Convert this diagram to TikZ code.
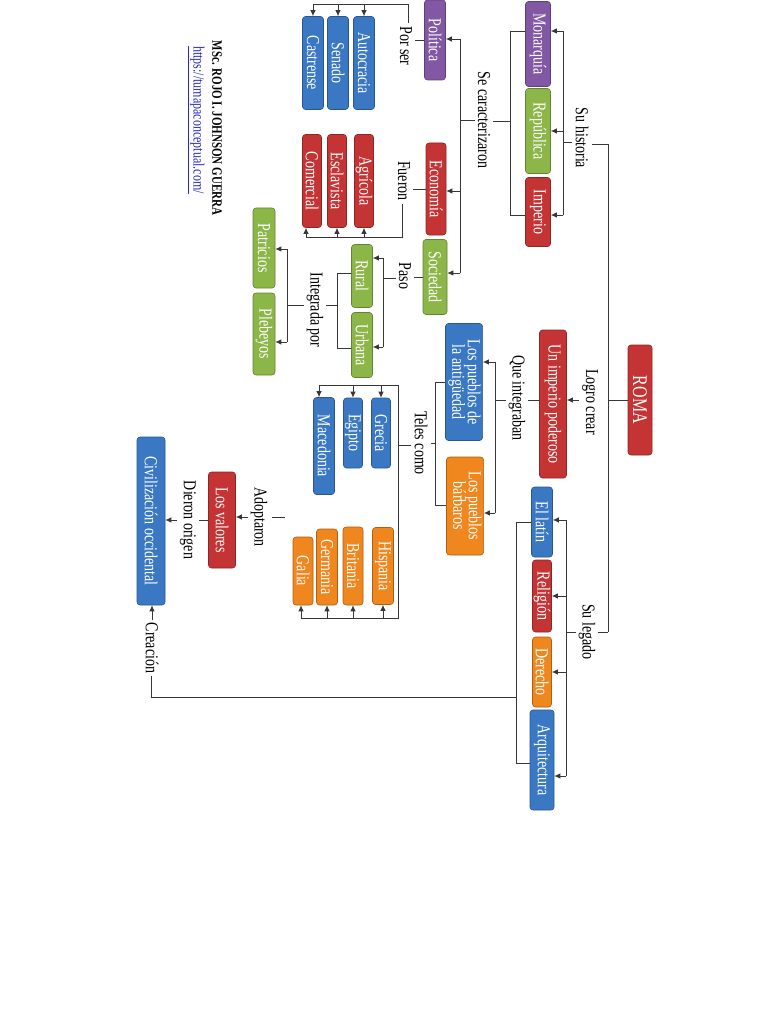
\documentclass[tikz,border=0pt]{standalone}
\usepackage{fontspec}
\setmainfont{Liberation Serif}
\usetikzlibrary{arrows.meta}
\definecolor{cpur}{RGB}{130,88,165}
\definecolor{cgrn}{RGB}{140,182,72}
\definecolor{cred}{RGB}{196,52,52}
\definecolor{cblu}{RGB}{58,120,196}
\definecolor{corg}{RGB}{240,134,30}
\definecolor{cln}{RGB}{55,55,55}
\definecolor{curl}{RGB}{40,40,200}
\newcommand{\tx}[1]{\scalebox{1}[1.3]{#1}}
\newcommand{\tl}[1]{\scalebox{1}[1.3]{\begin{tabular}{@{}c@{}}#1\end{tabular}}}
\begin{document}
\begin{tikzpicture}[x=1pt,y=-1pt,
  box/.style={rectangle, rounded corners=3pt, rotate=-90, draw=#1!72!black, fill=#1, text=white, inner sep=1pt, line width=0.6pt, font=\fontsize{14}{15}\selectfont},
  lab/.style={rotate=-90, inner sep=3pt, font=\fontsize{14}{15}\selectfont},
  ln/.style={draw=cln, line width=0.85pt},
  arr/.style={ln, -{Latex[length=6pt,width=5.5pt]}}]
\fill[white] (0,0) rectangle (768,1024);
\useasboundingbox (0,0) rectangle (768,1024);
% boxes
\node[box=cred, minimum width=110, minimum height=24, font=\fontsize{16}{17}\selectfont] (roma) at (640,400) {\tx{ROMA}};
\node[box=cred, minimum width=148, minimum height=27] (imp0) at (553,404) {\tx{Un imperio poderoso}};
\node[box=cpur, minimum width=85, minimum height=25] (mon) at (538,44) {\tx{Monarquía}};
\node[box=cgrn, minimum width=85, minimum height=25] (rep) at (538,131) {\tx{República}};
\node[box=cred, minimum width=69, minimum height=25] (impe) at (538,212) {\tx{Imperio}};
\node[box=cpur, minimum width=80, minimum height=21] (pol) at (435,40) {\tx{Política}};
\node[box=cred, minimum width=92, minimum height=20] (eco) at (436,189) {\tx{Economía}};
\node[box=cgrn, minimum width=75, minimum height=24] (soc) at (435,277) {\tx{Sociedad}};
\node[box=cblu, minimum width=93, minimum height=21] (aut) at (364,63) {\tx{Autocracia}};
\node[box=cblu, minimum width=93, minimum height=21] (sen) at (338,63) {\tx{Senado}};
\node[box=cblu, minimum width=93, minimum height=21] (cas) at (313,63) {\tx{Castrense}};
\node[box=cred, minimum width=93, minimum height=19] (agr) at (364,181) {\tx{Agrícola}};
\node[box=cred, minimum width=93, minimum height=19] (esc) at (337,181) {\tx{Esclavista}};
\node[box=cred, minimum width=93, minimum height=19] (com) at (312,181) {\tx{Comercial}};
\node[box=cgrn, minimum width=63, minimum height=21] (rur) at (362,276) {\tx{Rural}};
\node[box=cgrn, minimum width=65, minimum height=21] (urb) at (362,345) {\tx{Urbana}};
\node[box=cgrn, minimum width=80, minimum height=22] (pat) at (264,248) {\tx{Patricios}};
\node[box=cgrn, minimum width=82, minimum height=22] (ple) at (264,334) {\tx{Plebeyos}};
\node[box=cblu, minimum width=117, minimum height=35] (pa) at (464,382) {\tl{Los pueblos de\\[-3pt]la antigüedad}};
\node[box=corg, minimum width=98, minimum height=35] (pb) at (465,506) {\tl{Los pueblos\\[-3pt]bárbaros}};
\node[box=cblu, minimum width=70, minimum height=19] (gre) at (381,433) {\tx{Grecia}};
\node[box=cblu, minimum width=70, minimum height=19] (egi) at (353,433) {\tx{Egipto}};
\node[box=cblu, minimum width=97, minimum height=21] (mac) at (324,446) {\tx{Macedonia}};
\node[box=corg, minimum width=77, minimum height=21] (his) at (383,566) {\tx{Hispania}};
\node[box=corg, minimum width=78, minimum height=20] (bri) at (353,566) {\tx{Britania}};
\node[box=corg, minimum width=76, minimum height=21] (ger) at (327,567) {\tx{Germania}};
\node[box=corg, minimum width=68, minimum height=20] (gal) at (303,571) {\tx{Galia}};
\node[box=cred, minimum width=96, minimum height=27] (val) at (222,520) {\tx{Los valores}};
\node[box=cblu, minimum width=168, minimum height=28] (civ) at (151,521) {\tx{Civilización occidental}};
\node[box=cblu, minimum width=70, minimum height=21] (lat) at (542,522) {\tx{El latín}};
\node[box=cred, minimum width=72, minimum height=19] (rel) at (542,596) {\tx{Religión}};
\node[box=corg, minimum width=70, minimum height=19] (der) at (542,672) {\tx{Derecho}};
\node[box=cblu, minimum width=100, minimum height=24] (arq) at (542,760) {\tx{Arquitectura}};
% labels
\node[lab] (hist) at (582,138) {\tx{Su historia}};
\node[lab] (carac) at (484,120) {\tx{Se caracterizaron}};
\node[lab] (porser) at (406,46) {\tx{Por ser}};
\node[lab] (fueron) at (404,181) {\tx{Fueron}};
\node[lab] (paso) at (405,276) {\tx{Paso}};
\node[lab] (integ) at (315,310) {\tx{Integrada por}};
\node[lab] (logro) at (590,402) {\tx{Logro crear}};
\node[lab] (que) at (517,398) {\tx{Que integraban}};
\node[lab] (teles) at (421,443) {\tx{Teles como}};
\node[lab] (adop) at (259,517) {\tx{Adoptaron}};
\node[lab] (dier) at (188,520) {\tx{Dieron origen}};
\node[lab] (crea) at (152,648) {\tx{Creación}};
\node[lab] (leg) at (587,632) {\tx{Su legado}};
\node[rotate=-90, inner sep=1pt, font=\fontsize{11}{12}\selectfont\bfseries] (auth) at (217,128) {\tx{MSc. ROJO I. JOHNSON GUERRA}};
\node[rotate=-90, inner sep=1pt, text=curl, font=\fontsize{12}{13}\selectfont] (url) at (196,120) {\tx{\underline{https://tumapaconceptual.com/}}};
% trunk
\coordinate (tA) at (608,144); \coordinate (tB) at (608,632);
\draw[ln] (tA) -- (tB);
\draw[ln] (tA) -- (hist.north |- tA);
\draw[ln] (roma.south) -- (roma.south -| tA);
\draw[ln] (tB) -- (leg.north |- tB);
% history
\coordinate (hb1) at (563,31); \coordinate (hb2) at (563,215); \coordinate (hbm) at (563,142);
\draw[ln] (hb1) -- (hb2);
\draw[ln] (hist.south |- hbm) -- (hbm);
\draw[arr] (hb1) -- (mon.north |- hb1);
\draw[arr] (rep.north -| hb1) -- (rep.north);
\draw[arr] (hb2) -- (impe.north |- hb2);
\coordinate (lb1) at (510,31); \coordinate (lb2) at (510,215); \coordinate (lbm) at (510,121);
\draw[ln] (mon.south |- lb1) -- (lb1) -- (lb2) -- (impe.south |- lb2);
\draw[ln] (lbm) -- (carac.north |- lbm);
\coordinate (cb1) at (460,39); \coordinate (cb2) at (460,273); \coordinate (cb3) at (460,191); \coordinate (cbm) at (460,120);
\draw[ln] (carac.south |- cbm) -- (cbm);
\draw[ln] (cb1) -- (cb2);
\draw[arr] (cb1) -- (pol.north |- cb1);
\draw[arr] (cb3) -- (eco.north |- cb3);
\draw[arr] (cb2) -- (soc.north |- cb2);
% politica
\draw[ln] (pol.south) -- (porser.north |- pol.south);
\coordinate (ps1) at (408,4); \coordinate (ps2) at (313,4);
\draw[arr] (porser.west -| ps1) -- (ps1) -- (ps2) -- (cas.west);
\draw[arr] (sen.west |- ps1) -- (sen.west);
\draw[arr] (aut.west |- ps1) -- (aut.west);
% economia
\draw[ln] (eco.south) -- (fueron.north |- eco.south);
\coordinate (fb1) at (402,237); \coordinate (fb2) at (306,237);
\draw[arr] (fueron.east -| fb1) -- (fb1) -- (fb2) -- (fb2 |- com.east);
\draw[arr] (agr.east |- fb1) -- (agr.east);
\draw[arr] (esc.east |- fb1) -- (esc.east);
% sociedad
\draw[ln] (soc.south) -- (paso.north |- soc.south);
\coordinate (pb1) at (383,258); \coordinate (pb2) at (383,347); \coordinate (pbm) at (383,278);
\draw[ln] (paso.south |- pbm) -- (pbm);
\draw[ln] (pb1) -- (pb2);
\draw[arr] (pb1) -- (rur.north |- pb1);
\draw[arr] (pb2) -- (urb.north |- pb2);
\coordinate (ib1) at (337,273); \coordinate (ib2) at (337,348); \coordinate (ibm) at (337,305);
\draw[ln] (rur.south |- ib1) -- (ib1) -- (ib2) -- (urb.south |- ib2);
\draw[ln] (ibm) -- (integ.north |- ibm);
\coordinate (jb1) at (287,249); \coordinate (jb2) at (287,342); \coordinate (jbm) at (287,305);
\draw[ln] (integ.south |- jbm) -- (jbm);
\draw[ln] (jb1) -- (jb2);
\draw[arr] (jb1) -- (pat.north |- jb1);
\draw[arr] (jb2) -- (ple.north |- jb2);
% imperio
\draw[arr] (logro.south |- 0,400) -- (imp0.north |- 0,400);
\draw[ln] (imp0.south |- 0,400) -- (que.north |- 0,400);
\coordinate (qb1) at (495,362); \coordinate (qb2) at (495,513); \coordinate (qbm) at (495,400);
\draw[ln] (que.south |- qbm) -- (qbm);
\draw[ln] (qb1) -- (qb2);
\draw[arr] (qb1) -- (pa.north |- qb1);
\draw[arr] (qb2) -- (pb.north |- qb2);
\coordinate (rb1) at (435,382); \coordinate (rb2) at (435,505); \coordinate (rbm) at (435,443);
\draw[ln] (pa.south |- rb1) -- (rb1) -- (rb2) -- (pb.south |- rb2);
\draw[ln] (rbm) -- (teles.north |- rbm);
\coordinate (sb1) at (398,385); \coordinate (sb2) at (398,618); \coordinate (sbm) at (398,445);
\coordinate (sb3) at (319,385); \coordinate (sb4) at (301,618);
\draw[ln] (teles.south |- sbm) -- (sbm);
\draw[arr] (sb2) -- (sb1) -- (sb3) -- (sb3 |- mac.west);
\draw[arr] (sb1) -- (sb2) -- (sb4) -- (sb4 |- gal.east);
\draw[arr] (gre.west |- sb1) -- (gre.west);
\draw[arr] (egi.west |- sb1) -- (egi.west);
\draw[arr] (his.east |- sb2) -- (his.east);
\draw[arr] (bri.east |- sb2) -- (bri.east);
\draw[arr] (ger.east |- sb2) -- (ger.east);
% valores
\coordinate (ad1) at (272,517); \coordinate (ad2) at (285,517);
\draw[ln] (ad1) -- (ad2);
\draw[arr] (adop.south) -- (val.north |- adop.south);
\draw[ln] (val.south) -- (dier.north |- val.south);
\draw[arr] (dier.south) -- (civ.north |- dier.south);
\draw[arr] (crea.west) -- (civ.east -| crea.west);
\coordinate (cr1) at (151,697); \coordinate (cr2) at (516,697);
\draw[ln] (crea.east -| cr1) -- (cr1) -- (cr2);
% legado
\coordinate (gb1) at (516,522); \coordinate (gb2) at (516,763);
\draw[ln] (lat.south |- gb1) -- (gb1) -- (gb2) -- (arq.south |- gb2);
\coordinate (lg1) at (566,520); \coordinate (lg2) at (566,776); \coordinate (lgm) at (566,632);
\draw[ln] (lg1) -- (lg2);
\draw[ln] (leg.south |- lgm) -- (lgm);
\draw[arr] (lg1) -- (lat.north |- lg1);
\draw[arr] (rel.north -| lg1) -- (rel.north);
\draw[arr] (der.north -| lg1) -- (der.north);
\draw[arr] (lg2) -- (arq.north |- lg2);
\end{tikzpicture}
\end{document}
